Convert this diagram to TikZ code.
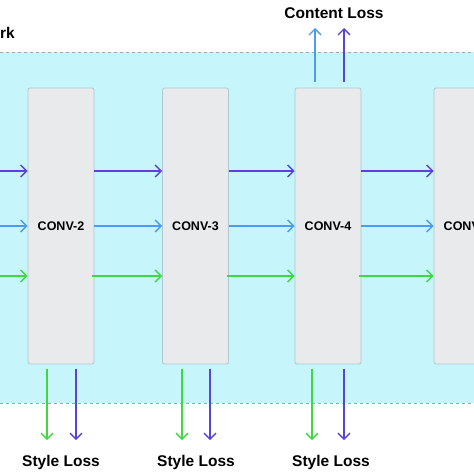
\documentclass[tikz,border=0pt]{standalone}
\usepackage{fontspec}
\setmainfont{Liberation Sans}
\usetikzlibrary{arrows.meta}
\definecolor{band}{HTML}{C6F5FC}
\definecolor{boxfill}{HTML}{E8EAEB}
\definecolor{boxline}{HTML}{AFC9D0}
\definecolor{cpurple}{HTML}{5B42D8}
\definecolor{cblue}{HTML}{4B9CEC}
\definecolor{cgreen}{HTML}{3FD93F}
\tikzset{
  convbox/.style={draw=boxline, fill=boxfill, line width=0.8pt, rounded corners=2pt,
    minimum width=66pt, minimum height=276pt, inner sep=0pt, font=\bfseries\fontsize{12.5}{14}\selectfont},
  arr/.style={line width=1.4pt, -{Straight Barb[length=6pt,width=12pt,line width=1.4pt]}},
  parr/.style={arr, draw=cpurple},
  barr/.style={arr, draw=cblue},
  garr/.style={arr, draw=cgreen},
  lbl/.style={font=\bfseries\fontsize{15.5}{18}\selectfont, inner sep=0pt}
}
\begin{document}
\begin{tikzpicture}[x=1pt,y=-1pt]
\useasboundingbox (0,0) rectangle (474,474);
\fill[white] (0,0) rectangle (474,474);
\fill[band] (0,52) rectangle (474,403);
\draw[gray!70, dashed, line width=0.6pt] (0,52) -- (474,52);
\draw[gray!70, dashed, line width=0.6pt] (0,403) -- (474,403);
\node[lbl, anchor=east] (title) at (15,33) {Network};

\node[convbox] (b1) at (61,226) {CONV-2};
\node[convbox] (b2) at (195.5,226) {CONV-3};
\node[convbox] (b3) at (328,226) {CONV-4};
\node[convbox] (b4) at (467,226) {CONV-5};

\coordinate (in) at (-5,226);
% horizontal arrows
\draw[parr] ([yshift=55pt]b1.west -| in) -- ([yshift=55pt]b1.west);
\draw[barr] (b1.west -| in) -- (b1.west);
\draw[garr] ([yshift=-50pt]b1.west -| in) -- ([yshift=-50pt]b1.west);
\foreach \a/\b in {b1/b2, b2/b3, b3/b4}{
  \draw[parr] ([yshift=55pt]\a.east) -- ([yshift=55pt]\b.west);
  \draw[barr] (\a.east) -- (\b.west);
  \draw[garr] ([yshift=-50pt,xshift=-2pt]\a.east) -- ([yshift=-50pt]\b.west);
}

% content loss
\node[lbl] (cl) at (334,13) {Content Loss};
\draw[barr] ([xshift=-13pt,yshift=6pt]b3.north) -- ([xshift=-13pt]b3.north |- 0,28);
\draw[parr] ([xshift=16pt,yshift=6pt]b3.north) -- ([xshift=16pt]b3.north |- 0,28);

% style losses
\node[lbl] (s1) at (61,462) {Style Loss};
\node[lbl] (s2) at (196,462) {Style Loss};
\node[lbl] (s3) at (331,462) {Style Loss};
\draw[garr] ([xshift=-14pt,yshift=-5pt]b1.south) -- ([xshift=-14pt]b1.south |- 0,440);
\draw[parr] ([xshift=15pt,yshift=-5pt]b1.south) -- ([xshift=15pt]b1.south |- 0,440);
\draw[garr] ([xshift=-13.5pt,yshift=-5pt]b2.south) -- ([xshift=-13.5pt]b2.south |- 0,440);
\draw[parr] ([xshift=14.5pt,yshift=-5pt]b2.south) -- ([xshift=14.5pt]b2.south |- 0,440);
\draw[garr] ([xshift=-16pt,yshift=-5pt]b3.south) -- ([xshift=-16pt]b3.south |- 0,440);
\draw[parr] ([xshift=16pt,yshift=-5pt]b3.south) -- ([xshift=16pt]b3.south |- 0,440);
\end{tikzpicture}
\end{document}
